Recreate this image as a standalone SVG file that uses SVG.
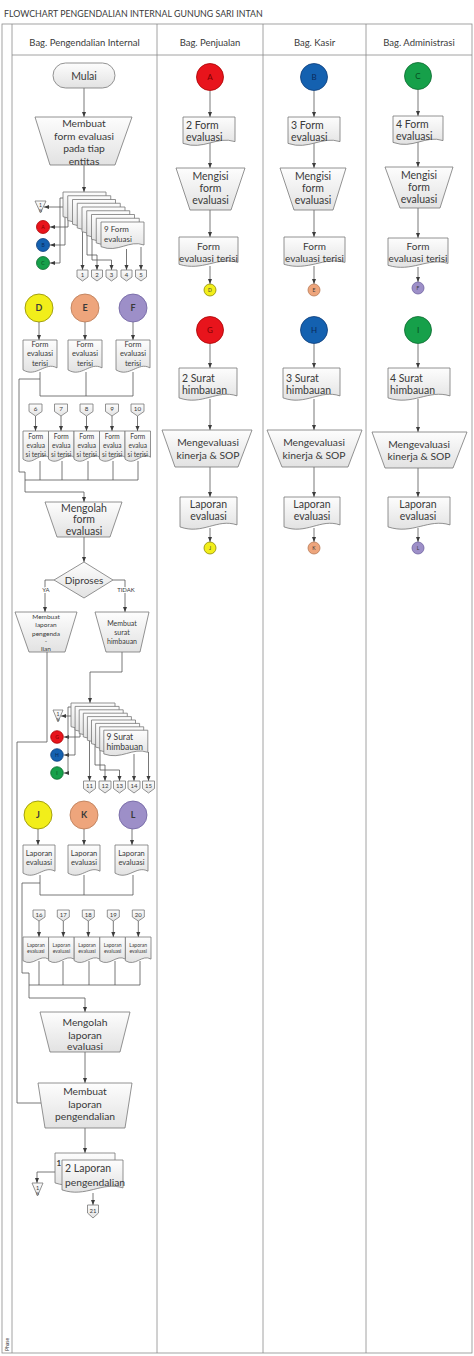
<svg xmlns="http://www.w3.org/2000/svg" width="474" height="1356" viewBox="0 0 474 1356">
<defs>
<linearGradient id="g" x1="0" y1="0" x2="0" y2="1"><stop offset="0" stop-color="#fdfdfd"/><stop offset="1" stop-color="#e2e2e2"/></linearGradient>
<marker id="ah" viewBox="0 0 10 10" refX="10" refY="5" markerWidth="5" markerHeight="5" orient="auto" markerUnits="userSpaceOnUse"><path d="M0 1L10 5L0 9z" fill="#3c3c3c"/></marker>
</defs>
<style>
text{font-family:Lato,"Liberation Sans",sans-serif;fill:#3a3a3a}
.m{text-anchor:middle}
.s{fill:url(#g);stroke:#777;stroke-width:.8}
.c{fill:none;stroke:#555;stroke-width:.8}
.a{marker-end:url(#ah)}
.f{fill:none;stroke:#8c8c8c;stroke-width:.8}
.r{fill:#e8141c;stroke:#a00;stroke-width:.8}
.b{fill:#1461b0;stroke:#0c3c78;stroke-width:.8}
.gr{fill:#16a04a;stroke:#0c6a30;stroke-width:.8}
.y{fill:#f2ee1a;stroke:#8e8a00;stroke-width:.8}
.p{fill:#eea57c;stroke:#b87a55;stroke-width:.8}
.v{fill:#9d8fc8;stroke:#6f62a0;stroke-width:.8}
.lr{fill:#7a0000}.lb{fill:#0a2a5a}.lg{fill:#064a20}
.w{stroke:#fff;stroke-width:2;paint-order:stroke}
</style>

<g id="frame">
<rect x="2" y="24" width="470" height="1329" class="f"/>
<path class="f" d="M12 24V1353M12 55H472M157 24V1353M263 24V1353M366 24V1353"/>
<text x="4" y="16.5" font-size="8.8">FLOWCHART PENGENDALIAN INTERNAL GUNUNG SARI INTAN</text>
<text class="m" x="84.5" y="45.5" font-size="9.5">Bag. Pengendalian Internal</text>
<text class="m" x="210" y="45.5" font-size="9.5">Bag. Penjualan</text>
<text class="m" x="314.5" y="45.5" font-size="9.5">Bag. Kasir</text>
<text class="m" x="419" y="45.5" font-size="9.5">Bag. Administrasi</text>
<text transform="translate(8.5,1351) rotate(-90)" font-size="5">Phase</text>
</g>

<g id="connectors">
<path class="c a" d="M84 88V117"/>
<path class="c a" d="M84 165V192"/>
<path class="c a" d="M68 207H44"/>
<path class="c a" d="M68 211V227H50"/>
<path class="c a" d="M65 204V245H50"/>
<path class="c a" d="M63 198H60V263H50"/>
<path class="c a" d="M82.5 219V270"/>
<path class="c a" d="M87 222V255H97V270"/>
<path class="c a" d="M92 226V260H111.5V270"/>
<path class="c a" d="M126.5 249V270"/>
<path class="c a" d="M141 247V270"/>
<path class="c a" d="M39 322V340"/>
<path class="c a" d="M85 322V340"/>
<path class="c a" d="M133 322V340"/>
<path class="c" d="M40 372V396H133M86 372V396M133 372V396"/>
<path class="c a" d="M40 379H19V472H25V492H84V502"/>
<path class="c a" d="M35.5 416V431"/>
<path class="c a" d="M61 416V431"/>
<path class="c a" d="M86.5 416V431"/>
<path class="c a" d="M112 416V431"/>
<path class="c a" d="M137.5 416V431"/>
<path class="c" d="M40 461V480M62 461V480M88 461V480M113 461V480M138 461V480M25 480H138"/>
<path class="c a" d="M84 537V562"/>
<path class="c a" d="M54 580H45V612"/>
<path class="c a" d="M113 580H125V612"/>
<path class="c" d="M47 652V742H17V1103H41"/>
<path class="c a" d="M122 652V672H90V703"/>
<path class="c a" d="M76 716H61"/>
<path class="c a" d="M80 724V737H64"/>
<path class="c a" d="M75 710V755H64"/>
<path class="c a" d="M71 707H68V773H64"/>
<path class="c a" d="M89.5 738V781"/>
<path class="c a" d="M95 742V765H105V781"/>
<path class="c a" d="M100 747V770H119.5V781"/>
<path class="c a" d="M134 754V781"/>
<path class="c a" d="M148.5 752V781"/>
<path class="c a" d="M38 829V845"/>
<path class="c a" d="M84 829V845"/>
<path class="c a" d="M132 829V845"/>
<path class="c" d="M40 875V895H133M84 875V895M133 875V895"/>
<path class="c a" d="M40 883H22V973H29V998H85V1012"/>
<path class="c a" d="M39 921V937"/>
<path class="c a" d="M63.3 921V937"/>
<path class="c a" d="M88.3 921V937"/>
<path class="c a" d="M113.3 921V937"/>
<path class="c a" d="M138.3 921V937"/>
<path class="c" d="M39 961V985M63 961V985M89 961V985M115 961V985M140 961V985M29 985H140"/>
<path class="c a" d="M85 1052V1083"/>
<path class="c a" d="M85 1128V1153"/>
<path class="c a" d="M55 1172H37V1183"/>
<path class="c a" d="M93 1193V1205"/>
<path class="c a" d="M210 90.5V117"/>
<path class="c a" d="M210 143V168"/>
<path class="c a" d="M210 210V237"/>
<path class="c a" d="M210 266V284"/>
<path class="c a" d="M210 343.5V368"/>
<path class="c a" d="M210 399V430"/>
<path class="c a" d="M210 467V497"/>
<path class="c a" d="M210 528V542"/>
<path class="c a" d="M314 90.5V117"/>
<path class="c a" d="M314 143V168"/>
<path class="c a" d="M314 210V237"/>
<path class="c a" d="M314 266V284"/>
<path class="c a" d="M314 343.5V368"/>
<path class="c a" d="M314 399V430"/>
<path class="c a" d="M314 467V497"/>
<path class="c a" d="M314 528V542"/>
<path class="c a" d="M418 89.5V116"/>
<path class="c a" d="M418 142V167"/>
<path class="c a" d="M418 208V238"/>
<path class="c a" d="M418 267V282"/>
<path class="c a" d="M418 343.5V368"/>
<path class="c a" d="M418 399V432"/>
<path class="c a" d="M418 468V497"/>
<path class="c a" d="M418 528V542"/>
</g>

<g id="mulai"><rect class="s" x="53" y="63" width="62" height="25" rx="12.5"/><text class="m" x="84" y="79.5" font-size="10.5">Mulai</text></g>

<g id="membuat-form"><path class="s" d="M35 117H132L115 165H50Z"/>
<text class="m" x="84" y="127" font-size="10.3">Membuat</text><text class="m" x="84" y="140" font-size="10.3">form evaluasi</text><text class="m" x="84" y="152" font-size="10.3">pada tiap</text><text class="m" x="84" y="164.5" font-size="10.3">entitas</text></g>

<g id="stack-form">
<path class="s" d="M63 192h43v23c-15-5.6-25.8 8.4-43 1.7z"/>
<path class="s" d="M67.75 195.75h43v23c-15-5.6-25.8 8.4-43 1.7z"/>
<path class="s" d="M72.5 199.5h43v23c-15-5.6-25.8 8.4-43 1.7z"/>
<path class="s" d="M77.25 203.25h43v23c-15-5.6-25.8 8.4-43 1.7z"/>
<path class="s" d="M82 207h43v23c-15-5.6-25.8 8.4-43 1.7z"/>
<path class="s" d="M86.75 210.75h43v23c-15-5.6-25.8 8.4-43 1.7z"/>
<path class="s" d="M91.5 214.5h43v23c-15-5.6-25.8 8.4-43 1.7z"/>
<path class="s" d="M96.25 218.25h43v23c-15-5.6-25.8 8.4-43 1.7z"/>
<path class="s" d="M101 222h43v23c-15-5.6-25.8 8.4-43 1.7z"/>
<text x="104" y="231.5" font-size="8">9 Form</text><text x="104" y="242" font-size="8">evaluasi</text>
</g>
<g id="arsip-1"><path class="s" d="M35 201H46L40.5 213Z"/><text class="m" x="40.5" y="206.5" font-size="5">1</text><text class="m" x="40.5" y="212" font-size="3.5">N</text></g>
<g id="off-a"><circle class="r" cx="43" cy="227" r="6.5"/><text class="m lr" x="43" y="229" font-size="5">A</text></g>
<g id="off-b"><circle class="b" cx="43" cy="245" r="6.5"/><text class="m lb" x="43" y="247" font-size="5">B</text></g>
<g id="off-c"><circle class="gr" cx="43" cy="263" r="6.5"/><text class="m lg" x="43" y="265" font-size="5">C</text></g>
<g id="ref-1-5" font-size="6">
<path class="s" d="M77 270h11v7l-5.5 4l-5.5-4z"/><text class="m" x="82.5" y="276.5">1</text>
<path class="s" d="M91.5 270h11v7l-5.5 4l-5.5-4z"/><text class="m" x="97" y="276.5">2</text>
<path class="s" d="M106 270h11v7l-5.5 4l-5.5-4z"/><text class="m" x="111.5" y="276.5">3</text>
<path class="s" d="M121 270h11v7l-5.5 4l-5.5-4z"/><text class="m" x="126.5" y="276.5">4</text>
<path class="s" d="M135.5 270h11v7l-5.5 4l-5.5-4z"/><text class="m" x="141" y="276.5">5</text>
</g>

<g id="in-d"><circle class="y" cx="39" cy="308" r="14"/><text class="m" x="39" y="311" font-size="9" font-weight="bold">D</text></g>
<g id="in-e"><circle class="p" cx="85" cy="308" r="14"/><text class="m" x="85" y="311" font-size="9" font-weight="bold">E</text></g>
<g id="in-f"><circle class="v" cx="133" cy="308" r="14"/><text class="m" x="133" y="311" font-size="9" font-weight="bold">F</text></g>
<g id="doc-def" font-size="7.5">
<path class="s" d="M23 340h34v27.9c-11.9-6.8-20.4 10.2-34 2z"/>
<path class="s" d="M68 340h34v27.9c-11.9-6.8-20.4 10.2-34 2z"/>
<path class="s" d="M116 340h34v27.9c-11.9-6.8-20.4 10.2-34 2z"/>
<text class="m" x="40" y="346.5">Form</text><text class="m" x="40" y="356">evaluasi</text><text class="m" x="40" y="365.5">terisi</text>
<text class="m" x="85" y="346.5">Form</text><text class="m" x="85" y="356">evaluasi</text><text class="m" x="85" y="365.5">terisi</text>
<text class="m" x="133" y="346.5">Form</text><text class="m" x="133" y="356">evaluasi</text><text class="m" x="133" y="365.5">terisi</text>
</g>
<g id="ref-6-10" font-size="6.3">
<path class="s" d="M29 404h13v7.5l-6.5 4.5l-6.5-4.5z"/><text class="m" x="35.5" y="410.5">6</text>
<path class="s" d="M54.5 404h13v7.5l-6.5 4.5l-6.5-4.5z"/><text class="m" x="61" y="410.5">7</text>
<path class="s" d="M80 404h13v7.5l-6.5 4.5l-6.5-4.5z"/><text class="m" x="86.5" y="410.5">8</text>
<path class="s" d="M105.5 404h13v7.5l-6.5 4.5l-6.5-4.5z"/><text class="m" x="112" y="410.5">9</text>
<path class="s" d="M131 404h13v7.5l-6.5 4.5l-6.5-4.5z"/><text class="m" x="137.5" y="410.5">10</text>
</g>
<g id="docs-6-10" font-size="6.6">
<path class="s" d="M23 431h25.5v26.2c-8.9-6.4-15.3 9.6-25.5 1.9z"/>
<path class="s" d="M48.5 431h25.5v26.2c-8.9-6.4-15.3 9.6-25.5 1.9z"/>
<path class="s" d="M74 431h25.5v26.2c-8.9-6.4-15.3 9.6-25.5 1.9z"/>
<path class="s" d="M99.5 431h25.5v26.2c-8.9-6.4-15.3 9.6-25.5 1.9z"/>
<path class="s" d="M125 431h25.5v26.2c-8.9-6.4-15.3 9.6-25.5 1.9z"/>
<text class="m" x="35.75" y="438.5">Form</text><text class="m" x="35.75" y="447.5">evalua</text><text class="m" x="35.75" y="456.5">si terisi</text>
<text class="m" x="61.25" y="438.5">Form</text><text class="m" x="61.25" y="447.5">evalua</text><text class="m" x="61.25" y="456.5">si terisi</text>
<text class="m" x="86.75" y="438.5">Form</text><text class="m" x="86.75" y="447.5">evalua</text><text class="m" x="86.75" y="456.5">si terisi</text>
<text class="m" x="112.25" y="438.5">Form</text><text class="m" x="112.25" y="447.5">evalua</text><text class="m" x="112.25" y="456.5">si terisi</text>
<text class="m" x="137.75" y="438.5">Form</text><text class="m" x="137.75" y="447.5">evalua</text><text class="m" x="137.75" y="456.5">si terisi</text>
</g>

<g id="mengolah-form"><path class="s" d="M45 502H122L110 537H57Z"/>
<text class="m" x="84" y="511.5" font-size="10.5">Mengolah</text><text class="m" x="84" y="523" font-size="10.5">form</text><text class="m" x="84" y="535" font-size="10.5">evaluasi</text></g>
<g id="diproses"><path class="s" d="M84 562L113 580L84 598L54 580Z"/><text class="m" x="84" y="583.5" font-size="10">Diproses</text></g>
<text class="m w" x="46" y="592" font-size="6">YA</text>
<text class="m w" x="126" y="592" font-size="6">TIDAK</text>
<g id="membuat-laporan-kiri" font-size="6.5"><path class="s" d="M15 612H77L65 652H29Z"/>
<text class="m" x="46" y="618.5">Membuat</text><text class="m" x="46" y="627">laporan</text><text class="m" x="46" y="635.5">pengenda</text><text class="m" x="46" y="643">-</text><text class="m" x="46" y="650.5">lian</text></g>
<g id="membuat-surat" font-size="7"><path class="s" d="M95 612H149L140 652H106Z"/>
<text class="m" x="122" y="625.5">Membuat</text><text class="m" x="122" y="635">surat</text><text class="m" x="122" y="644">himbauan</text></g>

<g id="stack-surat">
<path class="s" d="M71 703h44v22.1c-15.4-5.4-26.4 8.1-44 1.6z"/>
<path class="s" d="M75.1 706.4h44v22.1c-15.4-5.4-26.4 8.1-44 1.6z"/>
<path class="s" d="M79.2 709.8h44v22.1c-15.4-5.4-26.4 8.1-44 1.6z"/>
<path class="s" d="M83.3 713.2h44v22.1c-15.4-5.4-26.4 8.1-44 1.6z"/>
<path class="s" d="M87.4 716.6h44v22.1c-15.4-5.4-26.4 8.1-44 1.6z"/>
<path class="s" d="M91.5 720h44v22.1c-15.4-5.4-26.4 8.1-44 1.6z"/>
<path class="s" d="M95.6 723.4h44v22.1c-15.4-5.4-26.4 8.1-44 1.6z"/>
<path class="s" d="M99.7 726.8h44v22.1c-15.4-5.4-26.4 8.1-44 1.6z"/>
<path class="s" d="M103.8 730.2h44v22.1c-15.4-5.4-26.4 8.1-44 1.6z"/>
<text x="106.5" y="739.5" font-size="8.5">9 Surat</text><text x="106.5" y="750" font-size="8.5">himbauan</text>
</g>
<g id="arsip-2"><path class="s" d="M53 710H63L58 722Z"/><text class="m" x="58" y="715.5" font-size="5">1</text><text class="m" x="58" y="721" font-size="3.5">N</text></g>
<g id="off-g"><circle class="r" cx="57" cy="737" r="6.3"/><text class="m lr" x="57" y="739" font-size="5">G</text></g>
<g id="off-h"><circle class="b" cx="57" cy="755" r="6.3"/><text class="m lb" x="57" y="757" font-size="5">H</text></g>
<g id="off-i"><circle class="gr" cx="57" cy="773" r="6.3"/><text class="m lg" x="57" y="775" font-size="5">I</text></g>
<g id="ref-11-15" font-size="6">
<path class="s" d="M83.5 781h12v7.5l-6 4.5l-6-4.5z"/><text class="m" x="89.5" y="788">11</text>
<path class="s" d="M99 781h12v7.5l-6 4.5l-6-4.5z"/><text class="m" x="105" y="788">12</text>
<path class="s" d="M113.5 781h12v7.5l-6 4.5l-6-4.5z"/><text class="m" x="119.5" y="788">13</text>
<path class="s" d="M128 781h12v7.5l-6 4.5l-6-4.5z"/><text class="m" x="134" y="788">14</text>
<path class="s" d="M142.5 781h12v7.5l-6 4.5l-6-4.5z"/><text class="m" x="148.5" y="788">15</text>
</g>

<g id="in-j"><circle class="y" cx="38" cy="815" r="14"/><text class="m" x="38" y="818" font-size="9" font-weight="bold">J</text></g>
<g id="in-k"><circle class="p" cx="84" cy="815" r="14"/><text class="m" x="84" y="818" font-size="9" font-weight="bold">K</text></g>
<g id="in-l"><circle class="v" cx="133" cy="815" r="14"/><text class="m" x="133" y="818" font-size="9" font-weight="bold">L</text></g>
<g id="doc-jkl" font-size="7.5">
<path class="s" d="M23 845h32v26.2c-11.2-6.4-19.2 9.6-32 1.9z"/>
<path class="s" d="M68 845h32v26.2c-11.2-6.4-19.2 9.6-32 1.9z"/>
<path class="s" d="M115 845h33v26.2c-11.6-6.4-19.8 9.6-33 1.9z"/>
<text class="m" x="39" y="855.5">Laporan</text><text class="m" x="39" y="864.5">evaluasi</text>
<text class="m" x="84" y="855.5">Laporan</text><text class="m" x="84" y="864.5">evaluasi</text>
<text class="m" x="131.5" y="855.5">Laporan</text><text class="m" x="131.5" y="864.5">evaluasi</text>
</g>
<g id="ref-16-20" font-size="6">
<path class="s" d="M33 910h12v7l-6 4l-6-4z"/><text class="m" x="39" y="916.5">16</text>
<path class="s" d="M57.3 910h12v7l-6 4l-6-4z"/><text class="m" x="63.3" y="916.5">17</text>
<path class="s" d="M82.3 910h12v7l-6 4l-6-4z"/><text class="m" x="88.3" y="916.5">18</text>
<path class="s" d="M107.3 910h12v7l-6 4l-6-4z"/><text class="m" x="113.3" y="916.5">19</text>
<path class="s" d="M132.3 910h12v7l-6 4l-6-4z"/><text class="m" x="138.3" y="916.5">20</text>
</g>
<g id="docs-16-20" font-size="5">
<path class="s" d="M23 937h25.6v22.1c-9-5.4-15.4 8.1-25.6 1.6z"/>
<path class="s" d="M48.6 937h25.6v22.1c-9-5.4-15.4 8.1-25.6 1.6z"/>
<path class="s" d="M74.2 937h25.6v22.1c-9-5.4-15.4 8.1-25.6 1.6z"/>
<path class="s" d="M99.8 937h25.6v22.1c-9-5.4-15.4 8.1-25.6 1.6z"/>
<path class="s" d="M125.4 937h25.6v22.1c-9-5.4-15.4 8.1-25.6 1.6z"/>
<text class="m" x="35.8" y="946.5">Laporan</text><text class="m" x="35.8" y="952.5">evaluasi</text>
<text class="m" x="61.4" y="946.5">Laporan</text><text class="m" x="61.4" y="952.5">evaluasi</text>
<text class="m" x="87" y="946.5">Laporan</text><text class="m" x="87" y="952.5">evaluasi</text>
<text class="m" x="112.6" y="946.5">Laporan</text><text class="m" x="112.6" y="952.5">evaluasi</text>
<text class="m" x="138.2" y="946.5">Laporan</text><text class="m" x="138.2" y="952.5">evaluasi</text>
</g>

<g id="mengolah-laporan" font-size="10.3"><path class="s" d="M40 1012H130L120 1052H50Z"/>
<text class="m" x="85" y="1026">Mengolah</text><text class="m" x="85" y="1038.5">laporan</text><text class="m" x="85" y="1050">evaluasi</text></g>
<g id="membuat-laporan-pengendalian" font-size="10.3"><path class="s" d="M38 1083H132L125 1128H45Z"/>
<text class="m" x="85" y="1095">Membuat</text><text class="m" x="85" y="1107.5">laporan</text><text class="m" x="85" y="1119.5">pengendalian</text></g>
<g id="laporan-pengendalian">
<path class="s" d="M55 1153h60v27.9c-21-6.8-36 10.2-60 2z"/>
<path class="s" d="M62 1160h61v27.9c-21.4-6.8-36.6 10.2-61 2z"/>
<text x="56.5" y="1165.5" font-size="8" font-weight="bold">1</text>
<text x="65" y="1172" font-size="10.5">2 Laporan</text><text x="65" y="1186" font-size="10.3">pengendalian</text>
</g>
<g id="arsip-3"><path class="s" d="M32 1183H43L37.5 1196Z"/><text class="m" x="37.5" y="1189.5" font-size="5.5">1</text><text class="m" x="37.5" y="1195" font-size="3.5">N</text></g>
<g id="ref-21"><path class="s" d="M87.5 1205h11v8l-5.5 5l-5.5-5z"/><text class="m" x="93" y="1212.5" font-size="6">21</text></g>

<g id="penjualan">
<circle class="r" cx="210" cy="77" r="13.5"/><text class="m lr" x="210" y="80" font-size="8">A</text>
<path class="s" d="M183 117h52v24.6c-18.2-6-31.2 9-52 1.8z"/>
<text x="186" y="129" font-size="10.5">2 Form</text><text x="186" y="141" font-size="10.5">evaluasi</text>
<path class="s" d="M176 168H245L231 210H190Z"/>
<text class="m" x="210.5" y="180" font-size="10.5">Mengisi</text><text class="m" x="210.5" y="192" font-size="10.5">form</text><text class="m" x="210.5" y="204" font-size="10.5">evaluasi</text>
<path class="s" d="M179 237h59v25.4c-20.6-6.2-35.4 9.3-59 1.9z"/>
<text class="m" x="208.5" y="250" font-size="10">Form</text><text class="m" x="208.5" y="262" font-size="10">evaluasi terisi</text>
<circle class="y" cx="210" cy="290" r="6"/><text class="m" x="210" y="292" font-size="5">D</text>
<circle class="r" cx="210" cy="330" r="13.5"/><text class="m lr" x="210" y="333" font-size="8">G</text>
<path class="s" d="M179 368h58v27.9c-20.3-6.8-34.8 10.2-58 2z"/>
<text x="182" y="382" font-size="10.5">2 Surat</text><text x="182" y="393.5" font-size="10.5">himbauan</text>
<path class="s" d="M162 430H252L238 467H175Z"/>
<text class="m" x="208" y="446" font-size="10.3">Mengevaluasi</text><text class="m" x="208" y="458.5" font-size="10.3">kinerja &amp; SOP</text>
<path class="s" d="M180 497h57v27.9c-20-6.8-34.2 10.2-57 2z"/>
<text class="m" x="208.5" y="507.5" font-size="10.5">Laporan</text><text class="m" x="208.5" y="520" font-size="10.5">evaluasi</text>
<circle class="y" cx="210" cy="548" r="6"/><text class="m" x="210" y="550" font-size="5">J</text>
</g>

<g id="kasir">
<circle class="b" cx="314" cy="77" r="13.5"/><text class="m lb" x="314" y="80" font-size="8">B</text>
<path class="s" d="M288 117h52v24.6c-18.2-6-31.2 9-52 1.8z"/>
<text x="291" y="129" font-size="10.5">3 Form</text><text x="291" y="141" font-size="10.5">evaluasi</text>
<path class="s" d="M280 168H346L333 210H294Z"/>
<text class="m" x="313" y="180" font-size="10.5">Mengisi</text><text class="m" x="313" y="192" font-size="10.5">form</text><text class="m" x="313" y="204" font-size="10.5">evaluasi</text>
<path class="s" d="M284 237h61v25.4c-21.4-6.2-36.6 9.3-61 1.9z"/>
<text class="m" x="314.5" y="250" font-size="10">Form</text><text class="m" x="314.5" y="262" font-size="10">evaluasi terisi</text>
<circle class="p" cx="314" cy="290" r="6"/><text class="m" x="314" y="292" font-size="5">E</text>
<circle class="b" cx="314" cy="330" r="13.5"/><text class="m lb" x="314" y="333" font-size="8">H</text>
<path class="s" d="M283 368h57v27.9c-20-6.8-34.2 10.2-57 2z"/>
<text x="286" y="382" font-size="10.5">3 Surat</text><text x="286" y="393.5" font-size="10.5">himbauan</text>
<path class="s" d="M267 430H362L348 467H282Z"/>
<text class="m" x="314" y="446" font-size="10.3">Mengevaluasi</text><text class="m" x="314" y="458.5" font-size="10.3">kinerja &amp; SOP</text>
<path class="s" d="M284 497h56v27.9c-19.6-6.8-33.6 10.2-56 2z"/>
<text class="m" x="312" y="507.5" font-size="10.5">Laporan</text><text class="m" x="312" y="520" font-size="10.5">evaluasi</text>
<circle class="p" cx="314" cy="548" r="6"/><text class="m" x="314" y="550" font-size="5">K</text>
</g>

<g id="administrasi">
<circle class="gr" cx="418" cy="76" r="13.5"/><text class="m lg" x="418" y="79" font-size="8">C</text>
<path class="s" d="M393 116h50v24.6c-17.5-6-30 9-50 1.8z"/>
<text x="396" y="127.5" font-size="10.5">4 Form</text><text x="396" y="139.5" font-size="10.5">evaluasi</text>
<path class="s" d="M385 167H453L440 208H400Z"/>
<text class="m" x="419" y="178.5" font-size="10.5">Mengisi</text><text class="m" x="419" y="190.5" font-size="10.5">form</text><text class="m" x="419" y="202.5" font-size="10.5">evaluasi</text>
<path class="s" d="M388 238h60v25.4c-21-6.2-36 9.3-60 1.9z"/>
<text class="m" x="418" y="249.5" font-size="10">Form</text><text class="m" x="418" y="261.5" font-size="10">evaluasi terisi</text>
<circle class="v" cx="418" cy="288" r="6"/><text class="m" x="418" y="290" font-size="5">F</text>
<circle class="gr" cx="418" cy="330" r="13.5"/><text class="m lg" x="418" y="333" font-size="8">I</text>
<path class="s" d="M388 368h62v27.9c-21.7-6.8-37.2 10.2-62 2z"/>
<text x="390" y="382" font-size="10.5">4 Surat</text><text x="390" y="393.5" font-size="10.5">himbauan</text>
<path class="s" d="M372 432H467L453 468H385Z"/>
<text class="m" x="419" y="447.5" font-size="10.3">Mengevaluasi</text><text class="m" x="419" y="459.5" font-size="10.3">kinerja &amp; SOP</text>
<path class="s" d="M388 497h62v27.9c-21.7-6.8-37.2 10.2-62 2z"/>
<text class="m" x="418" y="507.5" font-size="10.5">Laporan</text><text class="m" x="418" y="520" font-size="10.5">evaluasi</text>
<circle class="v" cx="418" cy="548" r="6"/><text class="m" x="418" y="550" font-size="5">L</text>
</g>
</svg>
